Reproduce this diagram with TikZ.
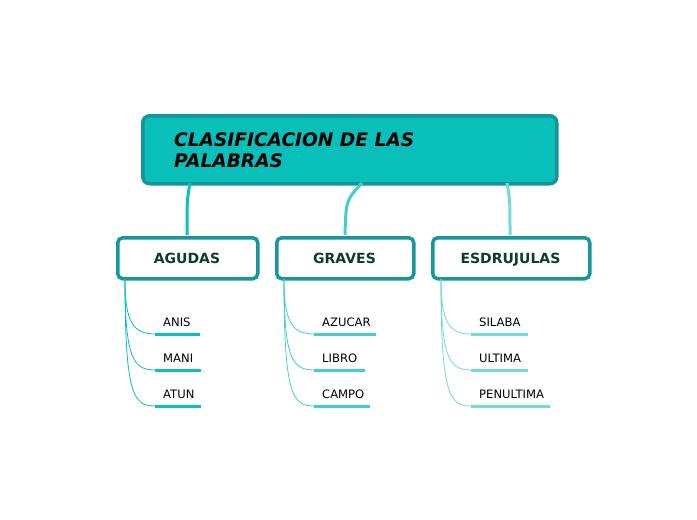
\documentclass[tikz,border=0pt]{standalone}
\usepackage{fontspec}
\setmainfont{DejaVu Sans}
\definecolor{mainfill}{HTML}{08BFB9}
\definecolor{mainborder}{HTML}{14959B}
\definecolor{boxborder}{HTML}{15979C}
\definecolor{boxtext}{HTML}{0B3D2E}
\definecolor{cA}{HTML}{0CC1BB}
\definecolor{cB}{HTML}{43CECA}
\definecolor{cC}{HTML}{72DBD8}
\begin{document}
\begin{tikzpicture}[x=1pt,y=-1pt,
  mainbox/.style={draw=mainborder,fill=mainfill,line width=3.5pt,rounded corners=7pt,minimum width=414pt,minimum height=68pt,anchor=north west,inner sep=0pt},
  catbox/.style={draw=boxborder,fill=white,line width=3.5pt,rounded corners=5pt,minimum height=41pt,anchor=north west,inner sep=0pt},
  cattext/.style={anchor=base,inner sep=0pt,font=\bfseries\fontsize{14}{16}\selectfont,text=boxtext},
  titletext/.style={anchor=base west,inner sep=0pt,font=\bfseries\itshape\fontsize{18.6}{22}\selectfont},
  leaf/.style={anchor=base west,inner sep=0pt,font=\fontsize{11.6}{13}\selectfont,text=black},
  bigcon/.style={line width=3pt},
  thin/.style={line width=0.8pt},
  under/.style={line width=3pt}]
\useasboundingbox (0,0) rectangle (697,520);
% main
\node[mainbox] (main) at (141,114) {};
\node[titletext] (title1) at (174,146) {CLASIFICACION DE LAS};
\node[titletext] (title2) at (174,167) {PALABRAS};
% categories
\node[catbox,minimum width=140pt] (ag) at (116,236) {};
\node[catbox,minimum width=137pt] (gr) at (275,236) {};
\node[catbox,minimum width=157pt] (es) at (431,236) {};
\node[cattext] (agt) at (187,263) {AGUDAS};
\node[cattext] (grt) at (344.5,263) {GRAVES};
\node[cattext] (est) at (510.5,263) {ESDRUJULAS};
% main connectors
\coordinate (m1) at (190,183);
\coordinate (m2) at (362,183);
\coordinate (m3) at (507,183);
\coordinate (a1) at (187,235);
\coordinate (g1) at (345,235);
\coordinate (e1) at (510,235);
\draw[bigcon,cA] (m1) .. controls (187,200) .. (a1);
\draw[bigcon,cB] (m2) .. controls (346,200) .. (g1);
\draw[bigcon,cC] (m3) .. controls (510,200) .. (e1);
% leaves
\foreach \col/\bx/\nm/\ya/\yb/\yc/\ea/\eb/\ec/\ta/\tb/\tc in {
  cA/125/ag/334/370/406/200/201/201/ANIS/MANI/ATUN,
  cB/284/gr/334/370/406/376/365/370/AZUCAR/LIBRO/CAMPO,
  cC/441/es/334/370/406/528/528/550/SILABA/ULTIMA/PENULTIMA}{
  \coordinate (\nm-top) at (\bx,279);
  \foreach \y/\e/\t/\k in {\ya/\ea/\ta/1,\yb/\eb/\tb/2,\yc/\ec/\tc/3}{
    \coordinate (\nm-s\k) at ({\bx+30},\y);
    \coordinate (\nm-e\k) at (\e,\y);
    \draw[thin,\col] (\nm-top) .. controls (\bx,{\y-12}) and ({\bx+8},\y) .. (\nm-s\k);
    \draw[under,\col] (\nm-s\k) -- (\nm-e\k);
    \node[leaf] (\nm-t\k) at ({\bx+38},{\y-8}) {\t};
  }
}
\end{tikzpicture}
\end{document}
